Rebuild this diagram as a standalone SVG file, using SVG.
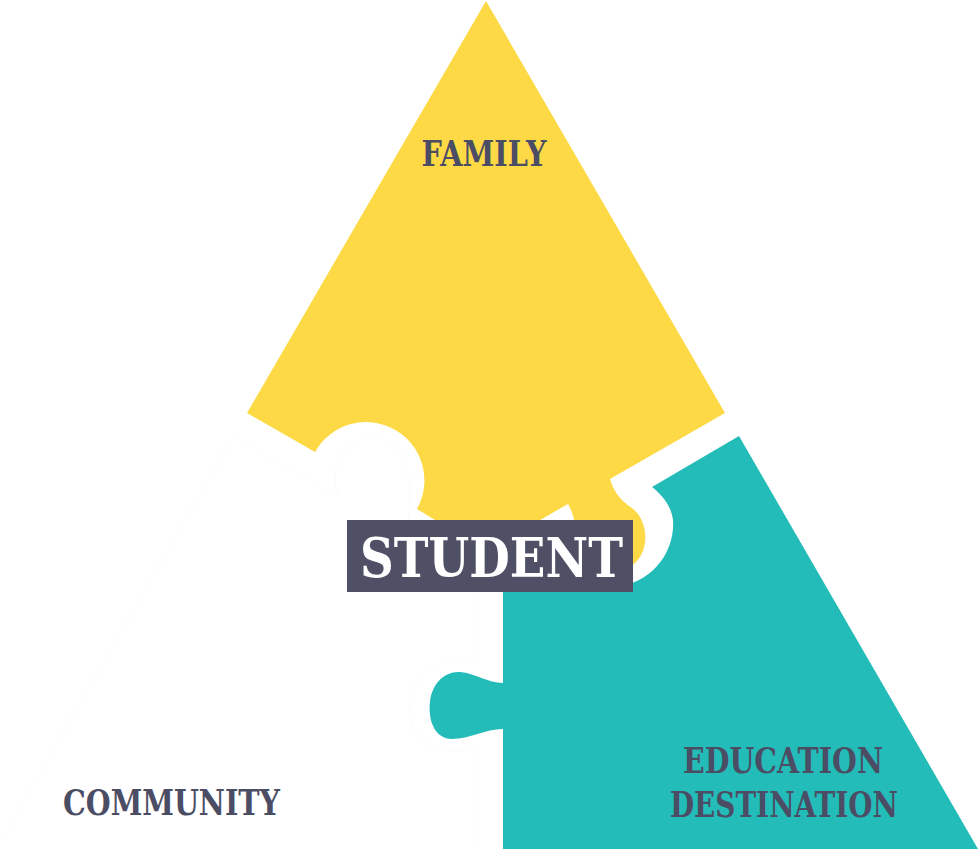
<svg xmlns="http://www.w3.org/2000/svg" width="980" height="849" viewBox="0 0 980 849">
<style>
.lbl{font-family:"DejaVu Serif","Liberation Serif",serif;font-weight:bold;fill:#4b4d64;}
.big{font-family:"DejaVu Serif","Liberation Serif",serif;font-weight:bold;fill:#ffffff;}
</style>
<rect width="980" height="849" fill="#ffffff"/>
<g id="community">
<path d="M233.5,436.4 L338,497 C328,465 345,437 373,437 C403,437 418,478 405,535 L475,576 L475,662 C455,655 420,662 410,700 C405,740 440,760 475,748 L475,849 L-4,849 Z" fill="#ffffff" stroke="#fdfdf7" stroke-width="1"/>
<text class="lbl" x="63" y="815" font-size="36" textLength="217" lengthAdjust="spacingAndGlyphs">COMMUNITY</text>
</g>
<g id="family">
<path d="M486,1 L725,413 L610,479 C614,492 620,500 632,508 C648,520 650,548 636,562 C620,578 590,575 580,555 C572,540 580,525 568,504 L486,551 L417,509 A57,57 0 1 0 315,452 L247,413 Z" fill="#fdda45"/>
<text class="lbl" x="484" y="166" font-size="36" text-anchor="middle" textLength="125" lengthAdjust="spacingAndGlyphs">FAMILY</text>
</g>
<g id="education">
<path d="M503,572 L555,542 C555,575 590,592 625,585 C655,578 675,550 673,520 C671,505 662,495 652,487 L739,436 L978,849 L503,849 L503,729 C485,729 470,739 452,739 C433,739 428,717 430,702 C432,683 445,671 460,672 C475,673 488,683 503,683 Z" fill="#23bcb9"/>
<text class="lbl" x="683" y="773" font-size="35" textLength="200" lengthAdjust="spacingAndGlyphs">EDUCATION</text>
<text class="lbl" x="670" y="817" font-size="35" textLength="228" lengthAdjust="spacingAndGlyphs">DESTINATION</text>
</g>
<g id="student">
<rect x="347" y="520" width="286" height="72" fill="#4f5066"/>
<text class="big" x="491.5" y="577" font-size="55" text-anchor="middle" textLength="263" lengthAdjust="spacingAndGlyphs">STUDENT</text>
</g>
<g id="connectors"></g>
</svg>
